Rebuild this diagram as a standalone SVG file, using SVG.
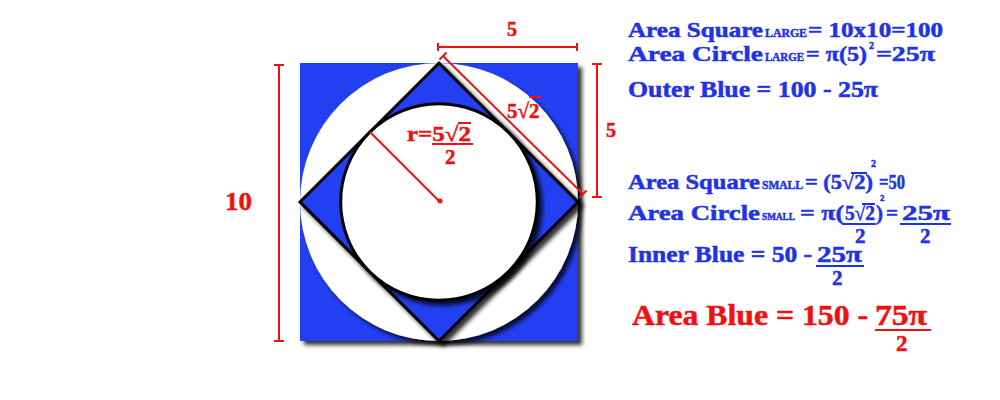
<svg xmlns="http://www.w3.org/2000/svg" width="1000" height="400" viewBox="0 0 1000 400">
<defs>
<filter id="sh" x="-10%" y="-10%" width="125%" height="125%">
<feDropShadow dx="4" dy="4" stdDeviation="2.2" flood-color="#000" flood-opacity="0.8"/>
</filter>
<style>
.t{font-family:"Liberation Serif","Times New Roman",serif;font-weight:bold;stroke-width:0.5;}
.b{fill:#1f33e6;stroke:#1f33e6;}
.r{fill:#ee1111;stroke:#ee1111;}
.dim{stroke:#ee1111;stroke-width:2;fill:none;}
.ub{stroke:#1f33e6;stroke-width:2;}
.ur{stroke:#ee1111;stroke-width:2;}
</style>
</defs>
<rect width="1000" height="400" fill="#fff"/>
<g id="square"><rect x="300" y="63" width="278" height="278" fill="#2040f2" filter="url(#sh)"/></g>
<g id="outer-circle"><circle cx="439" cy="202" r="139" fill="#fff" filter="url(#sh)"/></g>
<g id="diamond"><polygon points="439,63 578,202 439,341 300,202" fill="#2040f2" stroke="#000" stroke-width="3" stroke-linejoin="miter" filter="url(#sh)"/></g>
<g id="inner-circle"><circle cx="439" cy="202" r="98.3" fill="#fff" stroke="#000" stroke-width="3" filter="url(#sh)"/></g>
<g id="connectors">
<path class="dim" d="M438,47 H577 M438,43 V51 M577,43 V51"/>
<path class="dim" d="M597,64 V197 M592,64 H602 M592,197 H602"/>
<path class="dim" d="M279,65 V341 M274,65 H284 M274,341 H284"/>
<path class="dim" d="M443,56 L583,194 M439.5,59.5 L446.5,52.5 M579.5,197.5 L586.5,190.5"/>
<path class="dim" d="M370,132 L439,201"/>
<circle cx="440" cy="201" r="2.5" fill="#ee1111"/>
</g>
<g id="dim-labels">
<text class="t r" x="507" y="36" font-size="20">5</text>
<text class="t r" x="606" y="137" font-size="20">5</text>
<text class="t r" x="225" y="210" font-size="26" textLength="27" lengthAdjust="spacingAndGlyphs">10</text>
<text class="t r" x="507" y="118" font-size="21">5√2</text>
<line class="ur" x1="529" y1="97" x2="542" y2="97"/>
<text class="t r" x="407" y="141" font-size="21" textLength="64" lengthAdjust="spacingAndGlyphs">r=5√2</text>
<line class="ur" x1="458" y1="123" x2="471" y2="123"/>
<line class="ur" x1="432" y1="144" x2="473" y2="144"/>
<text class="t r" x="445" y="164" font-size="21">2</text>
</g>
<g id="formulas">
<text class="t b" x="628" y="37" font-size="21" textLength="135" lengthAdjust="spacingAndGlyphs">Area Square</text>
<text class="t b" x="765" y="37" font-size="12" textLength="42" lengthAdjust="spacingAndGlyphs">LARGE</text>
<text class="t b" x="808" y="37" font-size="21" textLength="135" lengthAdjust="spacingAndGlyphs">= 10x10=100</text>

<text class="t b" x="628" y="61" font-size="21" textLength="135" lengthAdjust="spacingAndGlyphs">Area Circle</text>
<text class="t b" x="765" y="61" font-size="12" textLength="39" lengthAdjust="spacingAndGlyphs">LARGE</text>
<text class="t b" x="806" y="61" font-size="21" textLength="61" lengthAdjust="spacingAndGlyphs">= π(5)</text>
<text class="t b" x="869" y="49" font-size="10">2</text>
<text class="t b" x="876" y="61" font-size="21" textLength="59" lengthAdjust="spacingAndGlyphs">=25π</text>

<text class="t b" x="628" y="97" font-size="23" textLength="250" lengthAdjust="spacingAndGlyphs">Outer Blue = 100 - 25π</text>

<text class="t b" x="628" y="189" font-size="21" textLength="132" lengthAdjust="spacingAndGlyphs">Area Square</text>
<text class="t b" x="762" y="189" font-size="12" textLength="41" lengthAdjust="spacingAndGlyphs">SMALL</text>
<text class="t b" x="805" y="189" font-size="21" textLength="68" lengthAdjust="spacingAndGlyphs">= (5√2)</text>
<line class="ub" x1="851" y1="173" x2="867" y2="173"/>
<text class="t b" x="871" y="167" font-size="10">2</text>
<text class="t b" x="879" y="189" font-size="21" textLength="26" lengthAdjust="spacingAndGlyphs">=50</text>

<text class="t b" x="628" y="220" font-size="21" textLength="132" lengthAdjust="spacingAndGlyphs">Area Circle</text>
<text class="t b" x="762" y="220" font-size="10.5" textLength="33" lengthAdjust="spacingAndGlyphs">SMALL</text>
<text class="t b" x="800" y="220" font-size="21" textLength="44" lengthAdjust="spacingAndGlyphs">= π(</text>
<text class="t b" x="845" y="220" font-size="21" textLength="30" lengthAdjust="spacingAndGlyphs">5√2</text>
<line class="ub" x1="862" y1="204" x2="875" y2="204"/>
<line class="ub" x1="842" y1="224" x2="876" y2="224"/>
<text class="t b" x="855" y="243" font-size="21">2</text>
<text class="t b" x="876" y="220" font-size="21">)</text>
<text class="t b" x="880" y="201" font-size="9">2</text>
<text class="t b" x="886" y="220" font-size="21">=</text>
<text class="t b" x="902" y="220" font-size="21" textLength="48" lengthAdjust="spacingAndGlyphs">25π</text>
<line class="ub" x1="900" y1="224" x2="951" y2="224"/>
<text class="t b" x="920" y="243" font-size="21">2</text>

<text class="t b" x="628" y="262" font-size="23" textLength="184" lengthAdjust="spacingAndGlyphs">Inner Blue = 50 - </text>
<text class="t b" x="817" y="262" font-size="23" textLength="45" lengthAdjust="spacingAndGlyphs">25π</text>
<line class="ub" x1="816" y1="266" x2="864" y2="266"/>
<text class="t b" x="832" y="285" font-size="21">2</text>

<text class="t r" x="632" y="325" font-size="29" textLength="236" lengthAdjust="spacingAndGlyphs">Area Blue = 150 - </text>
<text class="t r" x="875" y="325" font-size="29" textLength="52" lengthAdjust="spacingAndGlyphs">75π</text>
<line class="ur" x1="875" y1="330" x2="931" y2="330"/>
<text class="t r" x="896" y="351" font-size="23">2</text>
</g>
</svg>
